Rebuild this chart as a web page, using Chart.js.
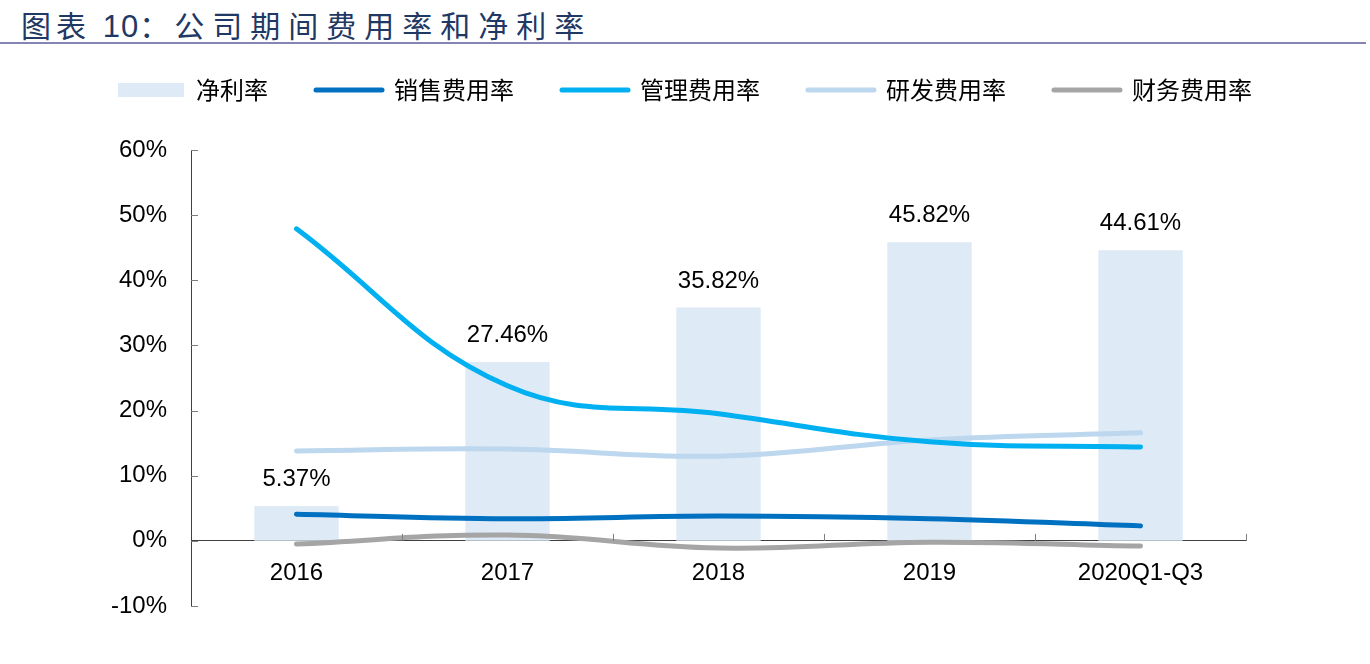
<!DOCTYPE html>
<html>
<head>
<meta charset="utf-8">
<script src="https://cdn.jsdelivr.net/npm/chart.js@4"></script>
<style>
  html, body { margin: 0; padding: 0; background: #fff; }
  #wrap { position: relative; width: 1370px; height: 664px; overflow: hidden; }
  #title {
    position: absolute; left: 21px; top: 2px;
    font: 30px "Noto Sans CJK SC", sans-serif; color: #1f3864;
    letter-spacing: 5px; white-space: nowrap;
  }
  #title .num { letter-spacing: 1px; font-family: "Liberation Sans", Arial, sans-serif; font-size: 31px; }
  #title .rest { letter-spacing: 8px; }
  #rule { position: absolute; left: 0; top: 42px; width: 1366px; height: 2px; background: #8585b3; }
  canvas { position: absolute; left: 0; top: 0; }
</style>
</head>
<body>
<div id="wrap">
  <div id="title">图表 <span class="num">10</span>：<span class="rest">公司期间费用率和净利率</span></div>
  <div id="rule"></div>
  <canvas id="chart" width="1370" height="664"></canvas>
</div>
<script>
// categories and series (values in %)
const years = ['2016', '2017', '2018', '2019', '2020Q1-Q3'];
const netMargin = [5.37, 27.46, 35.82, 45.82, 44.61];
const salesRate = [4.1, 3.4, 3.8, 3.4, 2.3];
const adminRate = [47.9, 23.8, 19.5, 15.2, 14.4];
const rdRate = [13.8, 14.1, 13.0, 15.5, 16.6];
const financeRate = [-0.5, 0.9, -1.1, -0.2, -0.8];
const yTicks = [-10, 0, 10, 20, 30, 40, 50, 60];

const latin = '"Liberation Sans", Arial, sans-serif';
const cjk = '"Noto Sans CJK SC", sans-serif';

function lineSet(label, data, color) {
  return {
    type: 'line', label, data,
    borderColor: color, backgroundColor: color,
    borderWidth: 5, borderCapStyle: 'round',
    pointRadius: 0, tension: 0.4, order: 0,
  };
}

// empty axis used only to reserve space around the plot
function spacer(position, size) {
  return {
    type: 'category', position, labels: years,
    grid: { display: false }, border: { display: false },
    ticks: { display: false },
    afterFit(s) {
      if (position === 'top') s.height = size; else s.width = size;
    }
  };
}

// value labels above the bars
const barLabels = {
  id: 'barLabels',
  afterDatasetsDraw(chart) {
    const c = chart.ctx;
    const meta = chart.getDatasetMeta(0);
    c.save();
    c.font = '24px ' + latin;
    c.fillStyle = '#000';
    c.textAlign = 'center';
    c.textBaseline = 'alphabetic';
    meta.data.forEach((bar, i) => {
      c.fillText(netMargin[i].toFixed(2) + '%', bar.x, bar.y - 20);
    });
    c.restore();
  }
};

// small inward tick marks like the original
const innerTicks = {
  id: 'innerTicks',
  afterDraw(chart) {
    const c = chart.ctx;
    const x = chart.scales.x, y = chart.scales.y;
    const y0 = y.getPixelForValue(0);
    c.save();
    c.strokeStyle = '#7f7f7f';
    c.lineWidth = 1;
    c.beginPath();
    yTicks.forEach(v => {
      const py = Math.round(y.getPixelForValue(v)) + 0.5;
      c.moveTo(x.left, py); c.lineTo(x.left + 7, py);
    });
    const step = (x.right - x.left) / years.length;
    for (let i = 1; i <= years.length; i++) {
      const px = Math.round(x.left + i * step) + 0.5;
      c.moveTo(px, y0); c.lineTo(px, y0 - 7);
    }
    c.stroke();
    c.restore();
  }
};

new Chart(document.getElementById('chart'), {
  data: {
    labels: years,
    datasets: [
      {
        type: 'bar', label: '净利率', data: netMargin,
        backgroundColor: '#deeaf6', borderWidth: 0,
        categoryPercentage: 0.8, barPercentage: 0.5, order: 1,
      },
      lineSet('销售费用率', salesRate, '#0070c0'),
      lineSet('管理费用率', adminRate, '#00b0f0'),
      lineSet('研发费用率', rdRate, '#bdd7ee'),
      lineSet('财务费用率', financeRate, '#a5a5a5'),
    ]
  },
  options: {
    responsive: false,
    animation: false,
    layout: { padding: { left: 0, right: 0, top: 30, bottom: 58 } },
    plugins: {
      tooltip: { enabled: false },
      legend: {
        position: 'top',
        labels: {
          font: { family: cjk, size: 24 },
          color: '#000',
          padding: 48,
          boxHeight: 14,
          usePointStyle: true,
          pointStyleWidth: 66,
          sort: (a, b) => a.datasetIndex - b.datasetIndex,
          generateLabels(chart) {
            return chart.data.datasets.map((ds, i) => ({
              text: ds.label,
              datasetIndex: i,
              pointStyle: ds.type === 'bar' ? 'rect' : 'line',
              fillStyle: ds.backgroundColor,
              strokeStyle: ds.type === 'bar' ? ds.backgroundColor : ds.borderColor,
              lineWidth: ds.type === 'bar' ? 0 : 5,
              lineCap: 'round',
              fontColor: '#000',
              hidden: false,
            }));
          }
        }
      }
    },
    scales: {
      x: {
        position: { y: 0 },
        offset: true,
        grid: { display: false },
        border: { display: true, color: '#404040', width: 1 },
        ticks: { font: { family: latin, size: 24 }, color: '#000', padding: 10 },
      },
      xTop: spacer('top', 38),
      y: {
        min: -10, max: 60,
        afterFit(s) { s.width = 191; },
        grid: { display: false },
        border: { display: true, color: '#404040', width: 1 },
        ticks: {
          stepSize: 10,
          font: { family: latin, size: 24 },
          color: '#000',
          padding: 16,
          callback: v => v + '%',
        }
      },
      yRight: Object.assign(spacer('right', 124), { type: 'linear', labels: undefined }),
    }
  },
  plugins: [barLabels, innerTicks]
});
</script>
</body>
</html>
